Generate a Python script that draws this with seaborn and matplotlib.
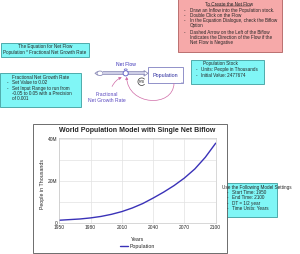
import numpy as np
import pandas as pd
import matplotlib
matplotlib.use("Agg")
import matplotlib.pyplot as plt
import seaborn as sb
from matplotlib.patches import Rectangle, Circle, Ellipse, FancyArrowPatch, Polygon, Arc
from matplotlib.path import Path
from matplotlib.ticker import FuncFormatter, MultipleLocator

# Data (population in thousands)
annees = [1950, 1960, 1970, 1980, 1990, 2000, 2010, 2020, 2030, 2040,
          2050, 2060, 2070, 2080, 2090, 2100]
population = [1.5e6, 1.8e6, 2.1e6, 2.6e6, 3.3e6, 4.3e6, 5.6e6, 7.3e6, 9.4e6, 12.0e6,
              14.8e6, 17.9e6, 21.5e6, 25.8e6, 31.3e6, 38.0e6]
x_ticks = [1950, 1980, 2010, 2040, 2070, 2100]
y_ticks = [0, 20e6, 40e6]

titre = "World Population Model with Single Net Biflow"

boite_rose = ["Draw an Inflow into the Population stock.",
              "Double Click on the Flow",
              "In the Equation Dialogue, check the Biflow",
              "Option",
              "Dashed Arrow on the Left of the Biflow",
              "Indicates the Direction of the Flow if the",
              "Net Flow is Negative"]
puces_rose = [True, True, True, False, True, False, False]

boite_taux = ["Set Value to 0.02",
              "Set Input Range to run from",
              "-0.05 to 0.05 with a Precision",
              "of 0.001"]
puces_taux = [True, True, False, False]

boite_stock = ["Units: People in Thousands", "Initial Value: 2477674"]
boite_param = ["Start Time: 1950", "End Time: 2100", "DT = 1/2 year", "Time Units: Years"]

W, H = 300, 254
CYAN = "#80f6f6"
CYAN_BORD = "#3c9e9e"
ROSE = "#f6a9a9"
ROSE_BORD = "#b06060"
BLEU = "#3a32b8"
MAUVE = "#cf6aa6"
FS = 3.3

sb.set_theme(style="whitegrid")
plt.rcParams["font.family"] = ["Liberation Sans", "DejaVu Sans"]

fig = plt.figure(figsize=(W / 100, H / 100), dpi=100)

# fond en coordonnees pixel
fond = fig.add_axes([0, 0, 1, 1])
fond.set_xlim(0, W)
fond.set_ylim(H, 0)
fond.axis("off")


def boite(x0, y0, x1, y1, fc, ec):
    fond.add_patch(Rectangle((x0, y0), x1 - x0, y1 - y0, facecolor=fc, edgecolor=ec, lw=0.6))


def liste(lignes, puces, xb, xt, ys):
    for ligne, puce, y in zip(lignes, puces, ys):
        if puce:
            fond.text(xb, y, "-", fontsize=FS, va="center", ha="left")
        fond.text(xt, y, ligne, fontsize=FS, va="center", ha="left")


# boite rose
boite(178, -1, 281.7, 51.7, ROSE, ROSE_BORD)
fond.text(229, 4.3, "To Create the Net Flow", fontsize=FS, ha="center", va="center")
fond.plot([207, 251], [6.4, 6.4], color="black", lw=0.3)
liste(boite_rose, puces_rose, 183.3, 190, [10.7, 15.7, 20.7, 26, 32.3, 37.3, 42.7])

# equation
boite(1, 42.7, 89, 56.7, CYAN, CYAN_BORD)
fond.text(45, 46.7, "The Equation for Net Flow", fontsize=FS, ha="center", va="center")
fond.text(45, 52.7, "Population * Fractional Net Growth Rate", fontsize=FS, ha="center", va="center")

# taux
boite(0, 73.3, 81, 107.3, CYAN, CYAN_BORD)
fond.text(40.8, 77.7, "Fractional Net Growth Rate", fontsize=FS, ha="center", va="center")
liste(boite_taux, puces_taux, 6.7, 12.3, [82.7, 88.3, 93.3, 99])

# stock
boite(190.7, 60, 264, 84, CYAN, CYAN_BORD)
fond.text(220, 63.7, "Population Stock", fontsize=FS, ha="center", va="center")
liste(boite_stock, [True, True], 196, 200.7, [70, 75.7])

# parametres
boite(219.3, 182.7, 277.3, 217.3, CYAN, CYAN_BORD)
fond.text(222.3, 187.3, "Use the Following Model Settings", fontsize=FS, ha="left", va="center")
liste(boite_param, [True] * 4, 226.7, 231.7, [192.3, 197.7, 203.3, 208.7])

# diagramme stock / flux
fond.plot([103, 145], [73.3, 73.3], color="#8c8cb8", lw=2.6, solid_capstyle="butt")
fond.plot([103, 145], [73.3, 73.3], color="#dcdcf0", lw=1.2, solid_capstyle="butt")
fond.add_patch(Polygon([[144, 70.5], [148, 73.3], [144, 76.1]], closed=True,
                       facecolor="white", edgecolor="#8c8cb8", lw=0.6))
fond.add_patch(Ellipse((100, 73.3), 6, 4.5, facecolor="white", edgecolor="#8c8cb8", lw=0.6))
fond.plot([97.5, 95, 97.5], [71.5, 73.3, 75.1], color="#8c8cb8", lw=0.6)
fond.add_patch(Circle((125.7, 73.3), 2.6, facecolor="white", edgecolor="#6868c8", lw=0.7, zorder=3))
fond.add_patch(Ellipse((125.7, 69.6), 3, 1.4, facecolor="white", edgecolor="#6868c8", lw=0.5, zorder=3))
fond.text(125.7, 64, "Net Flow", fontsize=3.6, color=BLEU, ha="center", va="center")
fond.add_patch(Rectangle((148, 67.3), 35.3, 16, facecolor="white", edgecolor="#8080c0", lw=0.6))
fond.text(165.7, 75.3, "Population", fontsize=3.9, color="#2e2ea0", ha="center", va="center")
fond.plot([180.5, 181.5], [81.5, 81.5], color="#8080c0", lw=0.4)

fond.text(106.5, 94, "Fractional", fontsize=3.6, color="#5a48c0", ha="center", va="center")
fond.text(106.5, 101, "Net Growth Rate", fontsize=3.6, color="#5a48c0", ha="center", va="center")

fond.add_patch(FancyArrowPatch((111, 89), (124.3, 76.3), connectionstyle="arc3,rad=-0.25",
                               arrowstyle="-|>,head_length=1.5,head_width=0.8", color=MAUVE, lw=0.5))
boucle = Path([(174, 83.5), (173, 108), (128, 106), (126.6, 76.8)],
              [Path.MOVETO, Path.CURVE4, Path.CURVE4, Path.CURVE4])
fond.add_patch(FancyArrowPatch(path=boucle, arrowstyle="-|>,head_length=1.5,head_width=0.8",
                               color=MAUVE, lw=0.5))
fond.add_patch(Arc((141.7, 81.7), 7.5, 7.5, theta1=40, theta2=320, color="#333333", lw=0.5))
fond.text(141.7, 81.9, "R/B", fontsize=2.6, ha="center", va="center")

# cadre du graphique
boite(32.5, 124.2, 227, 253.3, "white", "#555555")
fond.text(137, 131, titre, fontsize=5.0, fontweight="bold", ha="center", va="center")

# graphique
x0, x1, y_haut, y_bas = 59.3, 215.7, 137.7, 223.4
ax = fig.add_axes([x0 / W, (H - y_bas) / H, (x1 - x0) / W, (y_bas - y_haut) / H])
df = pd.DataFrame({"Years": annees, "Population": population})
sb.lineplot(data=df, x="Years", y="Population", color=BLEU, lw=1.0, label="Population", ax=ax)
ax.set_xlim(1950, 2100)
ax.set_ylim(0, 40.6e6)
ax.set_xticks(x_ticks)
ax.set_yticks(y_ticks)
ax.yaxis.set_minor_locator(MultipleLocator(10e6))
ax.yaxis.set_major_formatter(FuncFormatter(lambda v, p: "0" if v == 0 else f"{v / 1e6:.0f}M"))
ax.grid(True, which="both", color="#e2e2e2", lw=0.5)
ax.tick_params(labelsize=3.5, pad=1.5, length=0, which="both")
for s in ax.spines.values():
    s.set_color("#c8c8c8")
    s.set_linewidth(0.5)
ax.set_xlabel("Years", fontsize=3.8)
ax.set_ylabel("People in Thousands", fontsize=3.8)
ax.xaxis.set_label_coords(0.5, -0.155)
ax.yaxis.set_label_coords(-0.092, 0.46)
ax.legend(loc="center", bbox_to_anchor=(0.5, -0.272), frameon=False, fontsize=3.8,
          handlelength=1.6, handletextpad=0.3, borderpad=0)

fig.savefig("out.png", dpi=100)
